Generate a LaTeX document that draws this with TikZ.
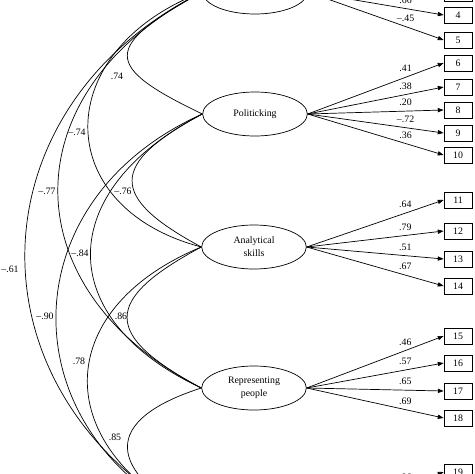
\documentclass[tikz,border=0pt]{standalone}
\usepackage{fontspec}
\setmainfont{Liberation Serif}
\usetikzlibrary{arrows.meta,shapes.geometric}
\tikzset{
  >={Triangle[length=5pt,width=3.6pt]},
  factor/.style ={ellipse,draw,line width=0.6pt,minimum width=3.14cm,
                  minimum height=1.32cm,inner sep=0pt,align=center},
  item/.style   ={draw,line width=0.6pt,minimum width=0.84cm,
                  minimum height=0.48cm,inner sep=0pt},
  load/.style   ={->,line width=0.6pt},
  corr/.style   ={line width=0.6pt},
  wt/.style     ={pos=0.72,above,inner sep=1.8pt,yshift=2.4pt},
  cw/.style     ={inner sep=1pt},
}

\begin{document}
\begin{tikzpicture}[x=0.03cm,y=-0.03cm,font=\fontsize{8.4}{11}\selectfont]
\useasboundingbox (0,0) rectangle (474,474);
\clip (0,0) rectangle (474,474);
% factors
\node[factor] (top) at (255,-8) {};
\node[factor] (pol) at (255,114) {Politicking};
\node[factor] (ana) at (254,247) {Analytical\\skills};
\node[factor] (rep) at (254,388) {Representing\\people};
\node[factor] (bot) at (254,522) {};
% indicators
\node[item] (i3) at (458,-7) {3};
\node[item] (i4) at (458,15) {4};
\node[item] (i5) at (458,40) {5};
\node[item] (i6) at (458,63) {6};
\node[item] (i7) at (458,87) {7};
\node[item] (i8) at (458,110) {8};
\node[item] (i9) at (458,133) {9};
\node[item] (i10) at (458,155) {10};
\node[item] (i11) at (458,200) {11};
\node[item] (i12) at (458,231) {12};
\node[item] (i13) at (458,259) {13};
\node[item] (i14) at (458,286) {14};
\node[item] (i15) at (458,336) {15};
\node[item] (i16) at (458,363) {16};
\node[item] (i17) at (458,391) {17};
\node[item] (i18) at (458,418) {18};
\node[item] (i19) at (458,472) {19};
% loadings
\draw[load] (top.east) -- (i3.west);
\draw[load] (top.east) -- node[wt] (w4) {.66} (i4.west);
\draw[load] (top.east) -- node[wt] (w5) {\textendash.45} (i5.west);
\draw[load] (pol.east) -- node[wt] (w6) {.41} (i6.west);
\draw[load] (pol.east) -- node[wt] (w7) {.38} (i7.west);
\draw[load] (pol.east) -- node[wt] (w8) {.20} (i8.west);
\draw[load] (pol.east) -- node[wt] (w9) {\textendash.72} (i9.west);
\draw[load] (pol.east) -- node[wt] (w10) {.36} (i10.west);
\draw[load] (ana.east) -- node[wt] (w11) {.64} (i11.west);
\draw[load] (ana.east) -- node[wt] (w12) {.79} (i12.west);
\draw[load] (ana.east) -- node[wt] (w13) {.51} (i13.west);
\draw[load] (ana.east) -- node[wt] (w14) {.67} (i14.west);
\draw[load] (rep.east) -- node[wt] (w15) {.46} (i15.west);
\draw[load] (rep.east) -- node[wt] (w16) {.57} (i16.west);
\draw[load] (rep.east) -- node[wt] (w17) {.65} (i17.west);
\draw[load] (rep.east) -- node[wt] (w18) {.69} (i18.west);
\draw[load] (bot.east) -- node[wt] (w19) {.86} (i19.west);
% correlations
\draw[corr] (top.west) .. controls +(-100,55) and +(-100,-48) .. (pol.west);
\draw[corr] (top.west) .. controls +(-152,58) and +(-152,-40) .. (ana.west);
\draw[corr] (top.west) .. controls +(-192,98) and +(-192,-98) .. (rep.west);
\draw[corr] (top.west) .. controls +(-236,118) and +(-236,-122) .. (bot.west);
\draw[corr] (pol.west) .. controls +(-93,50) and +(-93,-50) .. (ana.west);
\draw[corr] (pol.west) .. controls +(-147,76) and +(-150,-70) .. (rep.west);
\draw[corr] (pol.west) .. controls +(-200,90) and +(-189,-82) .. (bot.west);
\draw[corr] (ana.west) .. controls +(-99,53) and +(-99,-53) .. (rep.west);
\draw[corr] (ana.west) .. controls +(-152,63) and +(-152,-72) .. (bot.west);
\draw[corr] (rep.west) .. controls +(-100,32) and +(-97,-52) .. (bot.west);
\node[cw] (c1) at (117,76) {.74};
\node[cw] (c2) at (77,132) {\textendash.74};
\node[cw] (c3) at (47,191) {\textendash.77};
\node[cw] (c4) at (123,191) {\textendash.76};
\node[cw] (c5) at (10,269) {\textendash.61};
\node[cw] (c6) at (80,253) {\textendash.84};
\node[cw] (c7) at (45,316) {\textendash.90};
\node[cw] (c8) at (121,316) {.86};
\node[cw] (c9) at (79,361) {.78};
\node[cw] (c10) at (115,437) {.85};
\end{tikzpicture}
\end{document}
